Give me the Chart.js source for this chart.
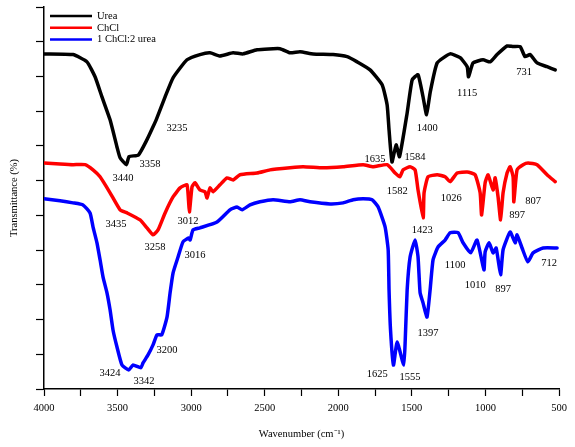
<!DOCTYPE html>
<html>
<head>
<meta charset="utf-8">
<script src="https://cdn.jsdelivr.net/npm/chart.js@4.4.1/dist/chart.umd.min.js"></script>
<style>
  html, body { margin: 0; padding: 0; background: #fff; }
  #wrap { width: 575px; height: 447px; }
</style>
</head>
<body>
<div id="wrap"><canvas id="ftir"></canvas></div>
<script>
// wavenumber (cm-1) / transmittance readings, one pair of arrays per sample
const ureaWn = [4000, 3803, 3708, 3653, 3606, 3551, 3504, 3483, 3440, 3422, 3358, 3300, 3259, 3235, 3177, 3123, 3028, 2940, 2872, 2804, 2715, 2647, 2552, 2396, 2328, 2260, 2171, 2035, 1940, 1872, 1784, 1702, 1668, 1655, 1635, 1607, 1584, 1532, 1498, 1458, 1424, 1400, 1376, 1328, 1240, 1172, 1124, 1115, 1084, 1016, 968, 921, 852, 812, 764, 731, 696, 649, 581, 526];
const ureaT = [96.5, 96.3, 94.2, 89.9, 84.1, 77.5, 69.7, 66.6, 64.6, 66.9, 67.4, 71.8, 75.5, 77.8, 84.1, 89.6, 94.8, 96.3, 96.8, 95.9, 96.8, 96.5, 97.7, 98.0, 96.8, 97.1, 96.5, 96.3, 95.7, 94.2, 91.9, 87.6, 81.8, 74.6, 65.4, 70.3, 66.9, 79.5, 89.0, 90.5, 84.1, 79.0, 85.3, 93.9, 96.5, 95.4, 92.8, 89.9, 93.9, 94.8, 94.2, 96.3, 98.8, 98.6, 98.6, 95.7, 96.3, 93.9, 92.8, 91.9];

const chclWn = [4000, 3891, 3803, 3721, 3667, 3619, 3551, 3483, 3435, 3347, 3300, 3258, 3225, 3177, 3123, 3075, 3028, 3012, 2994, 2974, 2940, 2906, 2892, 2872, 2851, 2804, 2756, 2715, 2668, 2552, 2464, 2328, 2239, 2103, 1967, 1831, 1763, 1668, 1614, 1582, 1559, 1512, 1478, 1458, 1423, 1417, 1390, 1328, 1274, 1240, 1192, 1124, 1070, 1036, 1026, 1002, 982, 948, 934, 914, 897, 880, 853, 832, 812, 807, 785, 744, 710, 649, 581, 526];
const chclT = [65.1, 64.8, 64.6, 64.6, 63.1, 61.1, 56.5, 51.6, 50.7, 48.7, 46.4, 44.4, 45.8, 50.7, 55.3, 57.9, 58.8, 51.0, 58.2, 59.4, 57.3, 56.8, 55.0, 57.9, 56.8, 58.8, 60.8, 60.2, 61.7, 62.2, 63.1, 63.7, 64.0, 63.7, 64.0, 64.6, 64.0, 64.6, 62.2, 61.1, 63.1, 64.0, 63.1, 57.3, 49.3, 56.5, 61.1, 61.7, 61.1, 59.7, 62.2, 62.5, 61.7, 56.5, 50.1, 59.4, 61.7, 57.3, 60.8, 55.3, 48.7, 56.5, 62.2, 64.0, 61.1, 53.9, 63.1, 64.6, 65.1, 64.6, 61.7, 59.7];

const desWn = [4000, 3891, 3803, 3735, 3687, 3667, 3640, 3619, 3599, 3572, 3551, 3531, 3504, 3470, 3424, 3395, 3342, 3327, 3293, 3259, 3232, 3200, 3164, 3143, 3123, 3089, 3055, 3016, 3007, 2987, 2940, 2824, 2736, 2688, 2654, 2600, 2532, 2443, 2328, 2260, 2192, 2056, 1967, 1899, 1831, 1770, 1729, 1682, 1661, 1655, 1645, 1625, 1600, 1555, 1545, 1532, 1512, 1478, 1458, 1444, 1424, 1397, 1376, 1356, 1322, 1274, 1240, 1186, 1152, 1100, 1057, 1010, 1002, 975, 948, 927, 897, 880, 832, 798, 785, 751, 712, 676, 608, 513];
const desT = [54.8, 54.2, 53.6, 53.0, 50.7, 46.7, 42.1, 37.2, 32.3, 27.7, 22.8, 17.0, 12.1, 6.9, 5.5, 6.9, 6.1, 7.5, 9.8, 12.7, 15.6, 15.6, 20.7, 27.7, 33.4, 38.0, 42.4, 43.5, 42.9, 45.8, 46.4, 48.1, 51.6, 52.4, 51.6, 53.0, 53.9, 54.5, 53.9, 54.5, 53.9, 53.3, 53.6, 54.5, 54.8, 54.5, 52.4, 46.7, 40.1, 28.5, 17.0, 6.9, 13.5, 6.9, 14.1, 28.5, 38.0, 42.9, 38.0, 27.7, 24.8, 20.7, 28.5, 37.2, 40.9, 42.9, 45.0, 45.0, 42.1, 39.2, 42.9, 34.3, 39.5, 42.1, 39.2, 40.6, 32.9, 40.1, 45.2, 42.1, 44.4, 40.6, 36.6, 39.2, 40.6, 40.6];

// peak labels: text, wavenumber and transmittance where the text sits
const peakText = ['3235', '3358', '3440', '1635', '1584', '1400', '1115', '731',
  '3435', '3258', '3012', '1582', '1423', '1026', '897', '807',
  '3016', '3200', '3424', '3342', '1625', '1555', '1397', '1100', '1010', '897', '712'];
const peakWn = [3096, 3279, 3463, 1750, 1478, 1396, 1124, 737,
  3511, 3245, 3021, 1600, 1430, 1233, 785, 676,
  2974, 3164, 3551, 3320, 1736, 1512, 1390, 1206, 1070, 880, 567];
const peakT = [75.2, 64.8, 60.8, 66.3, 66.6, 75.2, 85.3, 91.1,
  47.3, 40.9, 48.4, 56.8, 45.8, 54.8, 49.9, 54.2,
  38.6, 11.2, 4.6, 2.3, 4.3, 3.5, 16.1, 35.7, 30.0, 28.8, 36.3];

const seriesNames = ['Urea', 'ChCl', '1 ChCl:2 urea'];
const seriesColors = ['#000000', '#ff0000', '#0000ff'];

const SERIF = '"Liberation Serif", "Times New Roman", serif';

const toPoints = (wn, t) => wn.map((w, i) => ({ x: w, y: t[i] }));

// legend sits inside the plot, top-left
const insideLegend = {
  id: 'insideLegend',
  afterDraw(chart) {
    const ctx = chart.ctx;
    const left = chart.chartArea.left;
    const top = chart.chartArea.top;
    ctx.save();
    ctx.font = '10.5px ' + SERIF;
    ctx.textBaseline = 'middle';
    chart.data.datasets.forEach((ds, i) => {
      const y = top + 9 + i * 11.8;
      ctx.strokeStyle = ds.borderColor;
      ctx.lineWidth = 2.5;
      ctx.beginPath();
      ctx.moveTo(left + 6, y);
      ctx.lineTo(left + 48, y);
      ctx.stroke();
      ctx.fillStyle = '#000';
      ctx.fillText(ds.label, left + 53, y);
    });
    ctx.restore();
  }
};

// the wavenumber labels next to the peaks
const peakLabels = {
  id: 'peakLabels',
  afterDatasetsDraw(chart) {
    const ctx = chart.ctx;
    const xs = chart.scales.x, ys = chart.scales.y;
    ctx.save();
    ctx.font = '10.5px ' + SERIF;
    ctx.fillStyle = '#000';
    ctx.textAlign = 'center';
    ctx.textBaseline = 'middle';
    peakText.forEach((txt, i) => {
      ctx.fillText(txt, xs.getPixelForValue(peakWn[i]), ys.getPixelForValue(peakT[i]));
    });
    ctx.restore();
  }
};

new Chart(document.getElementById('ftir'), {
  type: 'line',
  data: {
    datasets: [
      { label: seriesNames[0], data: toPoints(ureaWn, ureaT) },
      { label: seriesNames[1], data: toPoints(chclWn, chclT) },
      { label: seriesNames[2], data: toPoints(desWn, desT) }
    ].map((ds, i) => Object.assign(ds, {
      borderColor: seriesColors[i],
      backgroundColor: seriesColors[i],
      borderWidth: 3.5,
      borderJoinStyle: 'round',
      borderCapStyle: 'round',
      pointRadius: 0,
      tension: 0.15,
      fill: false
    }))
  },
  options: {
    responsive: true,
    maintainAspectRatio: false,
    animation: false,
    events: [],
    layout: { padding: { top: 7, right: 16, left: 0, bottom: 0 } },
    plugins: {
      legend: { display: false },
      tooltip: { enabled: false }
    },
    scales: {
      x: {
        type: 'linear',
        reverse: true,
        min: 500,
        max: 4000,
        afterFit: (scale) => { scale.height = 58; },
        border: { color: '#000', width: 1.5 },
        grid: { drawOnChartArea: false, tickLength: 7, color: '#000', tickWidth: 1.2 },
        ticks: {
          stepSize: 250,
          autoSkip: false,
          maxRotation: 0,
          padding: 6,
          color: '#000',
          font: { family: SERIF, size: 10.5 },
          callback: (v) => (v % 500 === 0 ? String(v) : '')
        },
        title: {
          display: true,
          text: 'Wavenumber (cm\u207B\u00B9)',
          color: '#000',
          font: { family: SERIF, size: 10.5 },
          padding: { top: 0, bottom: 6 }
        }
      },
      y: {
        min: 0,
        max: 110,
        afterFit: (scale) => { scale.width = 44; },
        border: { color: '#000', width: 1.5 },
        grid: { drawOnChartArea: false, tickLength: 8, color: '#000', tickWidth: 1.2 },
        ticks: { stepSize: 10, display: false },
        title: {
          display: true,
          text: 'Transmittance (%)',
          color: '#000',
          font: { family: SERIF, size: 10.5 },
          padding: { top: 8, bottom: 0 }
        }
      }
    }
  },
  plugins: [insideLegend, peakLabels]
});
</script>
</body>
</html>
